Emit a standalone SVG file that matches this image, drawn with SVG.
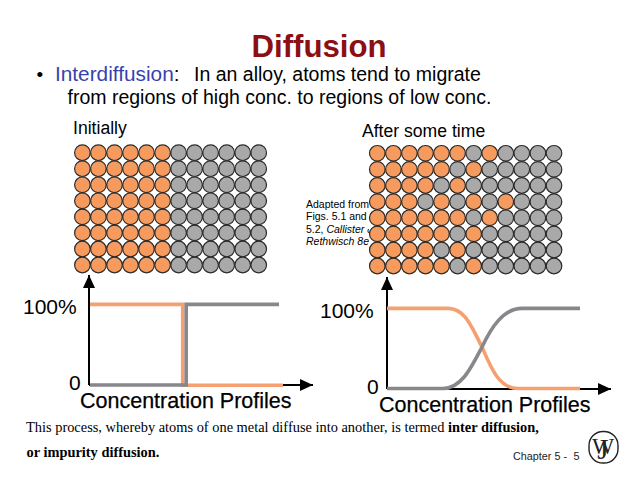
<svg xmlns="http://www.w3.org/2000/svg" width="638" height="478" viewBox="0 0 638 478">
<defs>
<style>
text{font-family:"Liberation Sans",Arial,sans-serif;fill:#000}
.o{fill:#f79a5e;stroke:#2a2a2a;stroke-width:1.2}
.g{fill:#a9a9a9;stroke:#2a2a2a;stroke-width:1.2}
.ax{fill:none;stroke:#000;stroke-width:2}
.po{fill:none;stroke:#f4a070;stroke-width:3.6}
.pg{fill:none;stroke:#87878c;stroke-width:3.6}
.lb{font-size:21px}
.cp{font-size:21.5px;stroke:#000;stroke-width:.25}
.h{font-size:17.6px}
.b{font-size:19.5px}
.sm{font-size:10.5px}
.ft{font-size:10.8px;fill:#222}
.ser{font-family:"Liberation Serif","Times New Roman",serif;font-size:14.4px}
</style>
<circle id="co" class="o" r="7.8"/>
<circle id="cg" class="g" r="7.8"/>
<marker id="ah" markerUnits="userSpaceOnUse" markerWidth="14" markerHeight="12" refX="13" refY="6" orient="auto"><path d="M0 0L13 6L0 12Z" fill="#000"/></marker>
<g id="rowI"><use href="#co" x="0"/><use href="#co" x="16"/><use href="#co" x="32.100"/><use href="#co" x="48.100"/><use href="#co" x="64.100"/><use href="#co" x="80.200"/><use href="#cg" x="96.200"/><use href="#cg" x="112.200"/><use href="#cg" x="128.200"/><use href="#cg" x="144.300"/><use href="#cg" x="160.300"/><use href="#cg" x="176.300"/></g>
<g id="rowA"><use href="#co" x="0"/><use href="#co" x="16.100"/><use href="#co" x="32.100"/><use href="#co" x="48.200"/><use href="#co" x="64.200"/><use href="#co" x="80.300"/><use href="#cg" x="96.400"/><use href="#co" x="112.400"/><use href="#cg" x="128.500"/><use href="#cg" x="144.500"/><use href="#cg" x="160.600"/><use href="#cg" x="176.700"/></g>
<g id="rowB"><use href="#co" x="0"/><use href="#co" x="16.100"/><use href="#co" x="32.100"/><use href="#co" x="48.200"/><use href="#co" x="64.200"/><use href="#cg" x="80.300"/><use href="#co" x="96.400"/><use href="#cg" x="112.400"/><use href="#cg" x="128.500"/><use href="#cg" x="144.500"/><use href="#cg" x="160.600"/><use href="#cg" x="176.700"/></g>
<g id="rowC"><use href="#co" x="0"/><use href="#co" x="16.100"/><use href="#co" x="32.100"/><use href="#co" x="48.200"/><use href="#cg" x="64.200"/><use href="#co" x="80.300"/><use href="#cg" x="96.400"/><use href="#cg" x="112.400"/><use href="#cg" x="128.500"/><use href="#cg" x="144.500"/><use href="#cg" x="160.600"/><use href="#cg" x="176.700"/></g>
<g id="rowD"><use href="#co" x="0"/><use href="#co" x="16.100"/><use href="#co" x="32.100"/><use href="#cg" x="48.200"/><use href="#co" x="64.200"/><use href="#cg" x="80.300"/><use href="#co" x="96.400"/><use href="#cg" x="112.400"/><use href="#co" x="128.500"/><use href="#cg" x="144.500"/><use href="#cg" x="160.600"/><use href="#cg" x="176.700"/></g>
</defs>
<rect width="638" height="478" fill="#fff"/>
<g id="title"><text x="319" y="56.700" text-anchor="middle" font-size="31.200" font-weight="bold" style="fill:#8b0f14">Diffusion</text></g>
<g id="intro">
<text x="36.500" y="81" font-size="19">•</text>
<text x="55" y="81" font-size="20.800"><tspan style="fill:#3a3fb0">Interdiffusion</tspan>:</text>
<text x="194" y="81" class="b">In an alloy, atoms tend to migrate</text>
<text x="67.500" y="104.300" class="b">from regions of high conc. to regions of low conc.</text>
</g>
<g id="label-initial"><text x="73" y="134.300" class="h">Initially</text></g>
<g id="label-after"><text x="362" y="136.500" class="h">After some time</text></g>
<g id="credit">
<text x="306" y="207.500" class="sm">Adapted from</text>
<text x="306" y="220.300" class="sm">Figs. 5.1 and</text>
<text x="306" y="232.800" class="sm">5.2, <tspan font-style="italic">Callister &amp;</tspan></text>
<text x="306" y="245.300" class="sm" font-style="italic">Rethwisch 8e.</text>
<rect x="369" y="196" width="14" height="56" fill="#fff"/>
</g>
<g id="grid-initial">
<use href="#rowI" x="82.400" y="152.700"/><use href="#rowI" x="82.400" y="168.700"/><use href="#rowI" x="82.400" y="184.800"/><use href="#rowI" x="82.400" y="200.800"/><use href="#rowI" x="82.400" y="216.900"/><use href="#rowI" x="82.400" y="232.900"/><use href="#rowI" x="82.400" y="249"/><use href="#rowI" x="82.400" y="265"/>
</g>
<g id="grid-after">
<use href="#rowA" x="377.300" y="153.300"/><use href="#rowB" x="377.300" y="169.400"/><use href="#rowC" x="377.300" y="185.500"/><use href="#rowD" x="377.300" y="201.700"/><use href="#rowA" x="377.300" y="217.800"/><use href="#rowB" x="377.300" y="233.900"/><use href="#rowC" x="377.300" y="250"/><use href="#rowB" x="377.300" y="266"/>
</g>
<g id="plot-left">
<path class="ax" d="M89 385V275" marker-end="url(#ah)"/>
<path class="ax" d="M89 385H313" marker-end="url(#ah)"/>
<path class="po" d="M90 304.400H182.700V385.300H283"/>
<path class="pg" d="M90 385H186.200V304.400H279"/>
<text x="23" y="314" class="lb">100%</text>
<text x="69" y="390" class="lb">0</text>
<text x="80" y="408" class="cp">Concentration Profiles</text>
</g>
<g id="plot-right">
<path class="ax" d="M387 389V277" marker-end="url(#ah)"/>
<path class="ax" d="M387 389H611" marker-end="url(#ah)"/>
<path class="po" d="M387 308.400H448C466 308.400 473 330 482 347C491 368 499 388.500 518 388.500H580"/>
<path class="pg" d="M387 388.500H443C462 388.500 472 366 482 347C491 328 503 308.400 522 308.400H580"/>
<text x="320" y="318" class="lb">100%</text>
<text x="367" y="394" class="lb">0</text>
<text x="379" y="412" class="cp">Concentration Profiles</text>
</g>
<g id="caption">
<text x="26" y="432" class="ser">This process, whereby atoms of one metal diffuse into another, is termed <tspan font-weight="bold">inter diffusion,</tspan></text>
<text x="26.500" y="456.700" class="ser" font-weight="bold">or impurity diffusion.</text>
</g>
<g id="footer"><text x="513" y="460" class="ft">Chapter 5 -</text><text x="573.500" y="460" class="ft">5</text></g>
<g id="logo">
<rect x="589" y="431.500" width="29" height="31.500" rx="14" fill="#fff" stroke="#222" stroke-width="1.400"/>
<text x="592" y="454" font-size="23.500" style="font-family:'Liberation Serif',serif;fill:#222">W<tspan dx="-17" dy="5" font-size="29">J</tspan></text>
</g>
</svg>
